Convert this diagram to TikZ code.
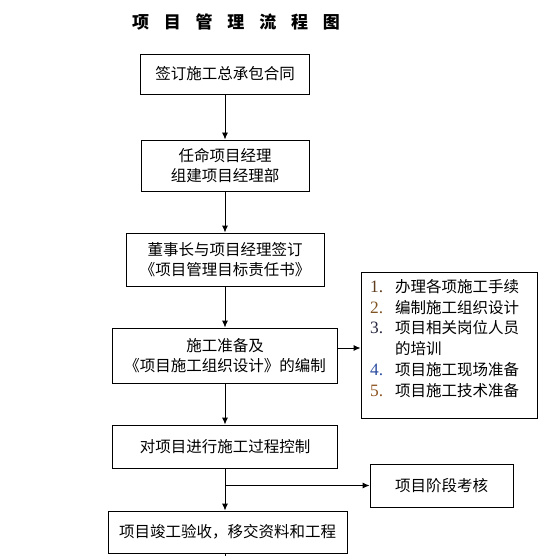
\documentclass[tikz,border=0pt]{standalone}
\usepackage{fontspec}
\setmainfont{Noto Sans CJK SC}
\newfontfamily\numfont[Scale=1.12]{Liberation Serif}
\usepackage{xcolor}
\usetikzlibrary{arrows.meta, positioning}

\definecolor{numA}{RGB}{92,60,28}
\definecolor{numB}{RGB}{128,84,34}
\definecolor{numC}{RGB}{40,40,64}
\definecolor{numD}{RGB}{44,76,160}
\definecolor{numE}{RGB}{140,84,32}

\newcommand{\tgap}{\hspace{14.8pt}}
\newcommand{\itemno}[2]{\makebox[25pt][l]{\numfont\color{#1}#2}}

\begin{document}
\begin{tikzpicture}[>={Latex[length=7pt,width=6pt]}, x=1pt, y=-1pt,
    box/.style={draw, line width=0.9pt, align=center, inner sep=0pt,
                font=\fontsize{15.5}{20}\selectfont},
    arr/.style={->, line width=0.9pt}]

    % =================================================================
    % 1. KHUNG VA TIEU DE
    % =================================================================
    \useasboundingbox (0,0) rectangle (559,556);
    \node[font=\bfseries\fontsize{17}{20}\selectfont] (title) at (236,22)
        {项\tgap 目\tgap 管\tgap 理\tgap 流\tgap 程\tgap 图};

    % =================================================================
    % 2. CAC BUOC CHINH (cot giua)
    % =================================================================
    \node[box, minimum width=169pt, minimum height=40pt] (sign) at (225,74) {签订施工总承包合同};
    \node[box, minimum width=168pt, minimum height=51pt] (appoint) at (225,165.5)
        {任命项目经理\\组建项目经理部};
    \node[box, minimum width=198pt, minimum height=53pt] (duty) at (225,259.5)
        {董事长与项目经理签订\\《项目管理目标责任书》};
    \node[box, minimum width=225pt, minimum height=55pt] (prep) at (225,355.5)
        {施工准备及\\《项目施工组织设计》的编制};
    \node[box, minimum width=225pt, minimum height=43pt] (control) at (225,446.5)
        {对项目进行施工过程控制};
    \node[box, minimum width=239pt, minimum height=42pt] (accept) at (227.5,532)
        {项目竣工验收，移交资料和工程};

    % =================================================================
    % 3. CAC KHUNG BEN PHAI
    % =================================================================
    \node[box, minimum width=176pt, minimum height=146pt] (plan) at (449,345) {};
    \node[anchor=north west, align=left, inner sep=0pt,
          font=\fontsize{15.5}{20.8}\selectfont] (plantext) at (370,279)
        {\itemno{numA}{1.}办理各项施工手续\\
         \itemno{numB}{2.}编制施工组织设计\\
         \itemno{numC}{3.}项目相关岗位人员\\
         \hspace{25pt}的培训\\
         \itemno{numD}{4.}项目施工现场准备\\
         \itemno{numE}{5.}项目施工技术准备};
    \node[box, minimum width=143pt, minimum height=43pt] (check) at (441.5,485.5) {项目阶段考核};

    % =================================================================
    % 4. MUI TEN NOI
    % =================================================================
    \coordinate (split) at (control.south |- check.west);
    \coordinate (tail) at (225,556);

    \draw[arr] (sign) -- (appoint);
    \draw[arr] (appoint) -- (duty);
    \draw[arr] (duty) -- (prep);
    \draw[arr] (prep) -- (control);
    \draw[arr] ([yshift=-3pt]plan.west -| prep.east) -- ([yshift=-3pt]plan.west);
    \draw[arr] (control.south) -- (control.south |- accept.north);
    \draw[arr] (split) -- (check.west);
    \draw[line width=0.9pt] (accept.south -| tail) -- (tail);

\end{tikzpicture}
\end{document}
